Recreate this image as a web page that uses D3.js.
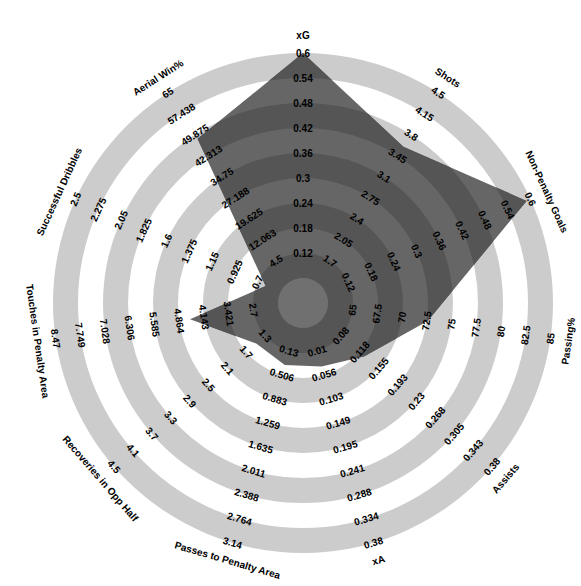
<!DOCTYPE html>
<html>
<head>
<meta charset="utf-8">
<script src="https://cdn.jsdelivr.net/npm/d3@7"></script>
<style>
  html, body { margin: 0; padding: 0; background: #fff; }
  text { font-family: "Liberation Sans", Arial, sans-serif; font-weight: bold; font-size: 10px; fill: #000; }
</style>
</head>
<body>
<svg id="chart" width="581" height="586"></svg>
<script>
// Parameters, clockwise from the top
var params = ["xG", "Shots", "Non-Penalty Goals", "Passing%", "Assists", "xA",
  "Passes to Penalty Area", "Recoveries in Opp Half", "Touches in Penalty Area",
  "Successful Dribbles", "Aerial Win%"];

// Player values
var values = [0.6, 3.6, 0.59, 72.6, 0.127, 0.04, 0.35, 1.49, 4.55, 0.62, 48.4];

// Range of each parameter
var rangeMin = [0.12, 1.7, 0.12, 65, 0.08, 0.01, 0.13, 1.3, 2.7, 0.7, 4.5];
var rangeMax = [0.6, 4.5, 0.6, 85, 0.38, 0.38, 3.14, 4.5, 8.47, 2.5, 65];

// Tick labels along each axis
var tickLabels = [
  ["0.12", "0.18", "0.24", "0.3", "0.36", "0.42", "0.48", "0.54", "0.6"],
  ["1.7", "2.05", "2.4", "2.75", "3.1", "3.45", "3.8", "4.15", "4.5"],
  ["0.12", "0.18", "0.24", "0.3", "0.36", "0.42", "0.48", "0.54", "0.6"],
  ["65", "67.5", "70", "72.5", "75", "77.5", "80", "82.5", "85"],
  ["0.08", "0.118", "0.155", "0.193", "0.23", "0.268", "0.305", "0.343", "0.38"],
  ["0.01", "0.056", "0.103", "0.149", "0.195", "0.241", "0.288", "0.334", "0.38"],
  ["0.13", "0.506", "0.883", "1.259", "1.635", "2.011", "2.388", "2.764", "3.14"],
  ["1.3", "1.7", "2.1", "2.5", "2.9", "3.3", "3.7", "4.1", "4.5"],
  ["2.7", "3.421", "4.143", "4.864", "5.585", "6.306", "7.028", "7.749", "8.47"],
  ["0.7", "0.925", "1.15", "1.375", "1.6", "1.825", "2.05", "2.275", "2.5"],
  ["4.5", "12.063", "19.625", "27.188", "34.75", "42.313", "49.875", "57.438", "65"]
];

var cx = 303, cy = 303;
var ringColor = "#cccccc";
var polyLight = "#666666";
var polyDark = "#555555";
var centerColor = "#707070";

var svg = d3.select("#chart");
var g = svg.append("g").attr("transform", "translate(" + cx + "," + cy + ")");

// ring boundaries every 25px, 10 steps out to 250px
var ringScale = d3.scaleLinear().domain([0, 10]).range([0, 250]);
var grayRings = [1, 3, 5, 7, 9];

var angle = d3.scaleLinear().domain([0, params.length]).range([0, 2 * Math.PI]);

// one radial scale per parameter
var rScales = params.map(function(p, i) {
  return d3.scaleLinear().domain([rangeMin[i], rangeMax[i]]).range([ringScale(2), ringScale(10)]);
});

var arc = d3.arc().startAngle(0).endAngle(2 * Math.PI);

// Background rings
g.selectAll(".ring")
  .data(grayRings)
  .enter()
  .append("path")
  .attr("class", "ring")
  .attr("fill", ringColor)
  .attr("d", function(k) {
    return arc({ innerRadius: ringScale(k), outerRadius: ringScale(k + 1) });
  });

// Radar polygon
var radarLine = d3.lineRadial()
  .angle(function(d, i) { return angle(i); })
  .radius(function(d, i) { return rScales[i](d); })
  .curve(d3.curveLinearClosed);

svg.append("defs")
  .append("clipPath")
  .attr("id", "radar-clip")
  .append("path")
  .attr("d", radarLine(values));

g.append("path")
  .attr("class", "radar")
  .attr("fill", polyLight)
  .attr("d", radarLine(values));

var inside = g.append("g").attr("clip-path", "url(#radar-clip)");

inside.selectAll(".radar-band")
  .data(grayRings)
  .enter()
  .append("path")
  .attr("class", "radar-band")
  .attr("fill", polyDark)
  .attr("d", function(k) {
    return arc({ innerRadius: ringScale(k), outerRadius: ringScale(k + 1) });
  });

inside.append("circle")
  .attr("r", ringScale(1))
  .attr("fill", centerColor);

// Rotation so text runs along the ring and never upside down
var textRotation = function(i) {
  var deg = angle(i) * 180 / Math.PI;
  return (deg > 90 && deg < 270) ? deg - 180 : deg;
};

var pos = function(i, r) {
  var a = angle(i);
  return [r * Math.sin(a), -r * Math.cos(a)];
};

// Tick labels
var axes = g.selectAll(".axis")
  .data(params)
  .enter()
  .append("g")
  .attr("class", "axis");

axes.selectAll(".tick-label")
  .data(function(d, i) {
    return tickLabels[i].map(function(t, j) { return { axis: i, idx: j, text: t }; });
  })
  .enter()
  .append("text")
  .attr("class", "tick-label")
  .attr("text-anchor", "middle")
  .attr("dominant-baseline", "central")
  .attr("transform", function(d) {
    var p = pos(d.axis, ringScale(d.idx + 2));
    return "translate(" + p[0] + "," + p[1] + ") rotate(" + textRotation(d.axis) + ")";
  })
  .text(function(d) { return d.text; });

// Parameter names
axes.append("text")
  .attr("class", "param-label")
  .attr("text-anchor", "middle")
  .attr("dominant-baseline", "central")
  .attr("transform", function(d, i) {
    var p = pos(i, 268);
    return "translate(" + p[0] + "," + p[1] + ") rotate(" + textRotation(i) + ")";
  })
  .text(function(d) { return d; });
</script>
</body>
</html>
